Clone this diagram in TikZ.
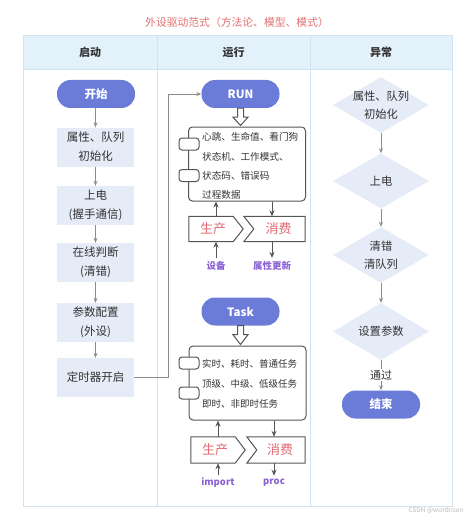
\documentclass[tikz,border=0pt]{standalone}
\usepackage{fontspec}
\setmainfont{Noto Sans CJK SC}
\usetikzlibrary{shapes.geometric,calc,arrows.meta}
\definecolor{pillc}{HTML}{6A7BD8}
\definecolor{boxc}{HTML}{E6EBF8}
\definecolor{hdrc}{HTML}{E3F1FB}
\definecolor{gridc}{HTML}{CFE3F1}
\definecolor{arrc}{HTML}{8C8C8C}
\definecolor{darkc}{HTML}{555555}
\definecolor{redc}{HTML}{E06B72}
\definecolor{purc}{HTML}{8B63D6}
\definecolor{titc}{HTML}{E07070}
\definecolor{txtc}{HTML}{333333}
\begin{document}
\begin{tikzpicture}[x=1pt,y=-1pt,
  pill/.style={fill=pillc, rounded corners=13.5pt, minimum width=78pt, minimum height=28pt, text=white, font=\fontsize{11.5}{13}\selectfont\bfseries, inner sep=0pt},
  lbox/.style={fill=boxc, minimum width=77pt, minimum height=39pt, align=center, text=txtc, font=\fontsize{11.5}{19}\selectfont, inner sep=0pt},
  hdr/.style={text=txtc, font=\fontsize{11}{12}\selectfont\bfseries},
  arr/.style={draw=arrc, line width=0.8pt, -{Stealth[length=5pt,width=4pt]}},
  darr/.style={draw=darkc, line width=1pt, -{Stealth[length=6pt,width=5pt]}},
  dia/.style={diamond, fill=boxc, minimum width=96pt, minimum height=56pt, inner sep=0pt},
  diatext/.style={align=center, text=txtc, font=\fontsize{11.3}{18.5}\selectfont},
  bigrect/.style={draw=darkc, line width=1pt, rounded corners=4pt, fill=white, minimum width=117pt, minimum height=74pt, inner sep=0pt},
  tabbox/.style={draw=darkc, line width=1pt, rounded corners=3pt, fill=white, minimum width=20pt, minimum height=12pt, inner sep=0pt},
  chev/.style={minimum height=25pt, text=redc, font=\fontsize{13}{13}\selectfont, inner sep=0pt},
  outl/.style={draw=darkc, line width=1pt, line join=miter},
  lab/.style={text=purc, font=\fontsize{9.5}{10}\selectfont\bfseries},
  recttext/.style={align=left, anchor=west, text=txtc, inner sep=0pt}
]
\useasboundingbox (0,0) rectangle (474,516);
% table
\fill[hdrc] (23,35) rectangle (452,69);
\draw[gridc, line width=0.8pt] (23,35) rectangle (452,506);
\draw[gridc, line width=0.8pt] (23,69) -- (452,69);
\draw[gridc, line width=0.8pt] (157,35) -- (157,506);
\draw[gridc, line width=0.8pt] (310,35) -- (310,506);
\node[text=titc, font=\fontsize{10.8}{12}\selectfont] (title) at (237,22) {外设驱动范式（方法论、模型、模式）};
\node[hdr] (h1) at (90,52) {启动};
\node[hdr] (h2) at (233.5,52) {运行};
\node[hdr] (h3) at (381,52) {异常};
% left column
\node[pill] (start) at (96,94) {开始};
\node[lbox] (b1) at (95.5,147) {属性、队列\\初始化};
\node[lbox] (b2) at (95.5,205.5) {上电\\(握手通信)};
\node[lbox] (b3) at (95.5,262.5) {在线判断\\(清错)};
\node[lbox] (b4) at (95.5,322.5) {参数配置\\(外设)};
\node[lbox] (b5) at (95.5,377.5) {定时器开启};
\draw[arr] (start.south -| b1.north) -- (b1.north);
\draw[arr] (b1) -- (b2);
\draw[arr] (b2) -- (b3);
\draw[arr] (b3) -- (b4);
\draw[arr] (b4) -- (b5);
% middle column - RUN
\node[pill] (run) at (240.5,94) {RUN};
\node[bigrect] (rect1) at (247,164) {};
\node[tabbox] (t1) at (189,144) {};
\node[tabbox] (t2) at (189,175.5) {};
\node[recttext, font=\fontsize{9.6}{19.3}\selectfont] (txt1) at (202,166) {心跳、生命值、看门狗\\状态机、工作模式、\\状态码、错误码\\过程数据};
\draw[arr, draw=arrc] (b5.east) -- ++(34,0) |- (run.west);
\draw[darkc, line width=1pt, fill=white, line join=miter]
  ($(run.south)+(-3,0)$) -- ($(run.south)+(3,0)$) -- ($(run.south)+(3,9)$) -- ($(run.south)+(7.5,9)$)
  -- ($(run.south |- rect1.north)+(0,-1)$) -- ($(run.south)+(-7.5,9)$) -- ($(run.south)+(-3,9)$) -- cycle;
\node[chev, minimum width=54pt] (p1) at (216,229) {生产\hspace*{6pt}};
\node[chev, minimum width=61pt] (c1) at (274.5,229) {\hspace*{8pt}消费};
\draw[outl] (p1.north west) -- ($(p1.north east)+(-10,0)$) -- (p1.east) -- ($(p1.south east)+(-10,0)$) -- (p1.south west) -- cycle;
\draw[outl] (c1.north west) -- (c1.north east) -- (c1.south east) -- (c1.south west) -- ($(c1.west)+(10,0)$) -- cycle;
\node[lab] (dev) at (216,266) {设备};
\node[lab] (upd) at (272,266) {属性更新};
\draw[darr] (p1.north -| dev) -- (dev |- rect1.south);
\draw[darr] (upd |- rect1.south) -- (upd |- c1.north);
\draw[darr] (dev.north) -- (dev |- p1.south);
\draw[darr] (upd |- c1.south) -- (upd.north);
% middle column - Task
\node[pill] (task) at (240.5,311.5) {Task};
\node[bigrect] (rect2) at (247.5,383) {};
\node[tabbox] (t3) at (189,363) {};
\node[tabbox] (t4) at (189,393) {};
\node[recttext, font=\fontsize{9.5}{20}\selectfont] (txt2) at (202,384) {实时、耗时、普通任务\\顶级、中级、低级任务\\即时、非即时任务};
\draw[darkc, line width=1pt, fill=white, line join=miter]
  ($(task.south)+(-3,0)$) -- ($(task.south)+(3,0)$) -- ($(task.south)+(3,9)$) -- ($(task.south)+(7.5,9)$)
  -- ($(task.south |- rect2.north)+(0,-1)$) -- ($(task.south)+(-7.5,9)$) -- ($(task.south)+(-3,9)$) -- cycle;
\node[chev, minimum width=54pt, minimum height=26pt] (p2) at (218,450) {生产\hspace*{6pt}};
\node[chev, minimum width=58pt, minimum height=26pt] (c2) at (276,450) {\hspace*{8pt}消费};
\draw[outl] (p2.north west) -- ($(p2.north east)+(-10,0)$) -- (p2.east) -- ($(p2.south east)+(-10,0)$) -- (p2.south west) -- cycle;
\draw[outl] (c2.north west) -- (c2.north east) -- (c2.south east) -- (c2.south west) -- ($(c2.west)+(10,0)$) -- cycle;
\node[lab] (imp) at (218,483) {import};
\node[lab] (proc) at (274,483) {proc};
\draw[darr] (imp |- p2.north) -- (imp |- rect2.south);
\draw[darr] (proc |- rect2.south) -- (proc |- c2.north);
\draw[darr] (imp.north) -- (imp |- p2.south);
\draw[darr] (proc |- c2.south) -- (proc.north);
% right column
\node[dia] (d1) at (381,105) {};
\node[diatext] (d1t) at (d1.center) {属性、队列\\初始化};
\node[dia, minimum height=55pt] (d2) at (381,181) {};
\node[diatext] (d2t) at (d2.center) {上电};
\node[dia] (d3) at (381,255) {};
\node[diatext] (d3t) at (d3.center) {清错\\清队列};
\node[dia, minimum height=57pt] (d4) at (381,331.5) {};
\node[diatext] (d4t) at (d4.center) {设置参数};
\node[pill] (endn) at (381,404.5) {结束};
\draw[arr] (d1.south) -- (d2.north);
\draw[arr] (d2.south) -- (d3.north);
\draw[arr] (d3.south) -- (d4.north);
\draw[arr] (d4.south) -- node[fill=white, text=txtc, font=\fontsize{11}{12}\selectfont, inner sep=1pt] (pass) {通过} (endn.north);
\node[text=gray!55, font=\fontsize{6.5}{7}\selectfont] (wm) at (436,510) {CSDN @wordnsen};
\end{tikzpicture}
\end{document}
